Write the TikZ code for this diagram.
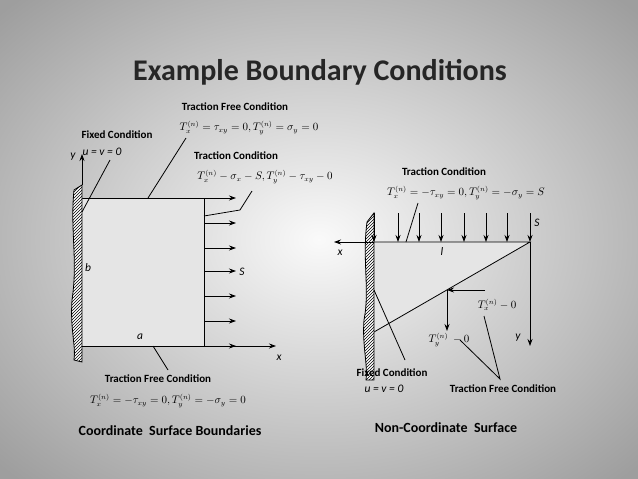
\documentclass[tikz,border=0pt]{standalone}
\usepackage{fontspec}
\setmainfont{Carlito}
\usetikzlibrary{patterns,arrows.meta}
\begin{document}
\begin{tikzpicture}[x=1pt,y=-1pt,
  lbl/.style={font=\fontsize{11}{12}\selectfont\bfseries,inner sep=0},
  it/.style={font=\fontsize{11.5}{12}\selectfont\itshape,inner sep=0},
  eq/.style={font=\fontsize{10.5}{12}\selectfont,inner sep=0},
  ar/.style={-{Stealth[length=7pt,width=5pt]}},
  ln/.style={line width=0.8pt},
  wall/.style={ln,fill=white,postaction={pattern=north east lines}}]
\useasboundingbox (0,0) rectangle (638,479);
\shade[inner color=white!96!gray,outer color=black!38] (-120,-90) rectangle (758,569);
\node[font=\fontsize{30}{32}\selectfont\bfseries,text=black!85] (title) at (320,72) {Example Boundary Conditions};
% left diagram
\fill[black!10] (82,198) rectangle (204,346);
\draw[ln] (82,198) -- (204,198) -- (204,346) -- (82,346);
\draw[wall] (82,185) -- (74,190) .. controls (70,230) and (78,260) .. (72,300) .. controls (70,330) and (76,345) .. (74,360) -- (82,362) -- cycle;
\coordinate (o) at (82,346);
\coordinate (xe) at (276,346);
\coordinate (yb) at (82,185);
\coordinate (ye) at (82,154);
\draw[ln,ar] (yb) -- (ye);
\draw[ln,ar] (o) -- (xe);
\foreach \yy in {198,223,248,271,296,321}{\coordinate (s\yy) at (204,\yy); \coordinate (e\yy) at (236,\yy); \draw[ln,ar] (s\yy) -- (e\yy);}
\coordinate (bb) at (204,346); \coordinate (be) at (236,346); \draw[ln,ar] (bb) -- (be);
\node[it] (ly) at (73,157) {y};
\node[it] (lx) at (279,358) {x};
\node[it] (lb) at (88,268) {b};
\node[it] (la) at (140,337) {a};
\node[it] (lS) at (242,272) {S};
\node[lbl] (tf1) at (235,107) {Traction Free Condition};
\node[eq] (tf1e) at (249,128) {$T_x^{(n)}=\tau_{xy}=0,T_y^{(n)}=\sigma_y=0$};
\node[lbl] (fc1) at (117,135) {Fixed Condition};
\node[it] (uv1) at (102,152) {u = v = 0};
\node[lbl] (tc1) at (236,156) {Traction Condition};
\node[eq] (tc1e) at (265,177) {$T_x^{(n)}-\sigma_x-S,T_y^{(n)}-\tau_{xy}-0$};
\node[lbl] (tf2) at (158,379) {Traction Free Condition};
\node[eq] (tf2e) at (168,401) {$T_x^{(n)}=-\tau_{xy}=0,T_y^{(n)}=-\sigma_y=0$};
\coordinate (p1) at (148,198); \coordinate (q1) at (186,138);
\draw[ln] (p1) -- (q1);
\coordinate (p2) at (82,212); \coordinate (q2) at (110,160);
\draw[ln] (p2) -- (q2);
\coordinate (p3) at (204,216); \coordinate (m3) at (240,210); \coordinate (q3) at (252,191);
\draw[ln] (p3) -- (m3) -- (q3);
\coordinate (p4) at (153,346); \coordinate (q4) at (168,370);
\draw[ln] (p4) -- (q4);
\node[font=\fontsize{14}{16}\selectfont\bfseries,inner sep=0] (cap1) at (170,431) {Coordinate\ \ Surface Boundaries};
% right diagram
\fill[black!10] (374,242) -- (530,242) -- (374,332) -- cycle;
\draw[ln] (374,242) -- (530,242) -- (374,332);
\draw[wall] (374,213) -- (367,222) .. controls (362,260) and (370,290) .. (364,320) .. controls (362,345) and (368,365) .. (366,380) -- (374,380) -- cycle;
\coordinate (o2) at (374,242); \coordinate (x2) at (334,242);
\draw[ln,ar] (o2) -- (x2);
\coordinate (c2) at (530,242); \coordinate (y2) at (530,346);
\draw[ln,ar] (c2) -- (y2);
\foreach \xx in {374,398,419,441,464,486,507,530}{\coordinate (t\xx) at (\xx,213); \coordinate (u\xx) at (\xx,242); \draw[ln,ar] (t\xx) -- (u\xx);}
\node[it] (rx) at (340,253) {x};
\node[it] (rS) at (537,223) {S};
\node[it] (rl) at (442,252) {l};
\node[it] (ry) at (518,338) {y};
\coordinate (h) at (447,290); \coordinate (hr) at (485,290); \coordinate (hd) at (447,331);
\draw[ln,ar] (hr) -- (h);
\draw[ln,ar] (h) -- (hd);
\node[eq] (tx0) at (497,305) {$T_x^{(n)}-0$};
\node[eq] (ty0) at (449,340) {$T_y^{(n)}\ -0$};
\node[lbl] (tc2) at (444,172) {Traction Condition};
\node[eq] (tc2e) at (466,193) {$T_x^{(n)}=-\tau_{xy}=0,T_y^{(n)}=-\sigma_y=S$};
\coordinate (p5) at (406,242); \coordinate (q5) at (418,203);
\draw[ln] (p5) -- (q5);
\coordinate (p6) at (374,290); \coordinate (q6) at (405,360);
\draw[ln] (p6) -- (q6);
\coordinate (f1) at (460,340); \coordinate (f2) at (484,316); \coordinate (fj) at (500,379);
\draw[ln] (f1) -- (fj) -- (f2);
\node[lbl] (fc2) at (392,373) {Fixed Condition};
\node[it] (uv2) at (384,389) {u = v = 0};
\node[lbl] (tf3) at (503,389) {Traction Free Condition};
\node[font=\fontsize{14}{16}\selectfont\bfseries,inner sep=0] (cap2) at (446,428) {Non-Coordinate\ \ Surface};
\end{tikzpicture}
\end{document}
